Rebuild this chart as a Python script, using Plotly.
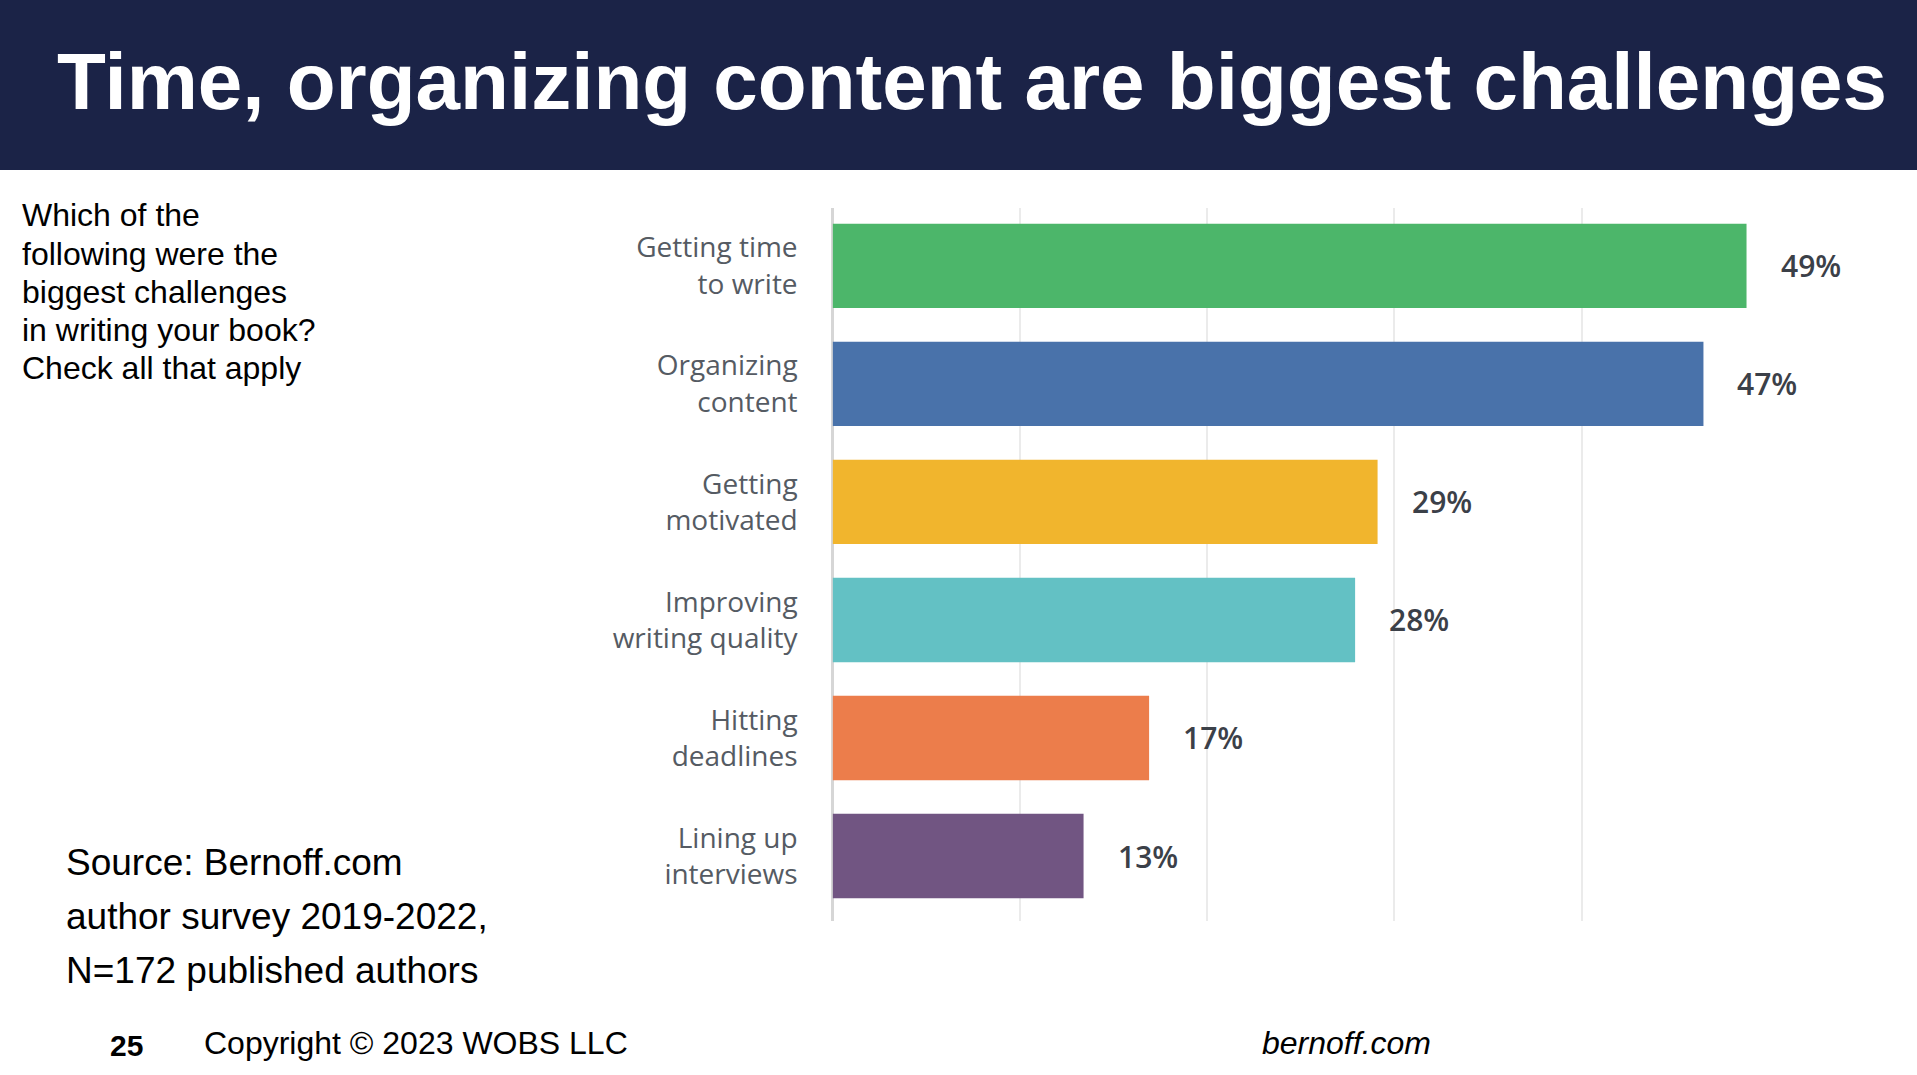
import plotly.graph_objects as go

categories = ["Getting time<br>to write", "Organizing<br>content", "Getting<br>motivated",
              "Improving<br>writing quality", "Hitting<br>deadlines", "Lining up<br>interviews"]
# bar lengths (percent of respondents)
values = [48.8, 46.5, 29.1, 27.9, 16.9, 13.4]
value_labels = ["49%", "47%", "29%", "28%", "17%", "13%"]
bar_colors = ["#4cb66a", "#4972aa", "#f1b52d", "#63c1c4", "#ec7d4b", "#715582"]

title_text = "Time, organizing content are biggest challenges"
question_lines = ["Which of the", "following were the", "biggest challenges",
                  "in writing your book?", "Check all that apply"]
source_lines = ["Source: Bernoff.com", "author survey 2019-2022,", "N=172 published authors"]
page_number = "25"
copyright_text = "Copyright © 2023 WOBS LLC"
site_text = "bernoff.com"

W, H = 1917, 1075

fig = go.Figure()
fig.add_trace(go.Bar(
    x=values, y=categories, orientation="h",
    marker=dict(color=bar_colors, line=dict(width=0)),
    hoverinfo="skip",
))

annotations = []
for v, c, t in zip(values, categories, value_labels):
    annotations.append(dict(
        x=v, y=c, xref="x", yref="y", text=t, showarrow=False,
        xanchor="left", yanchor="middle", xshift=32,
        font=dict(family="Open Sans", size=30, color="#3b4048", weight=600),
    ))

def px_x(px):
    return px / W

def px_y(px):
    return 1 - px / H

# title
annotations.append(dict(
    x=px_x(972), y=px_y(82), xref="paper", yref="paper", text="<b>" + title_text + "</b>",
    showarrow=False, xanchor="center", yanchor="middle",
    font=dict(family="Liberation Sans, Arial, sans-serif", size=80, color="#ffffff"),
))

q_y = [215, 254, 292, 330, 368]
for line, yy in zip(question_lines, q_y):
    annotations.append(dict(
        x=px_x(20), y=px_y(yy), xref="paper", yref="paper", text=line,
        showarrow=False, xanchor="left", yanchor="middle",
        font=dict(family="Liberation Sans, Arial, sans-serif", size=32, color="#000000"),
    ))

s_y = [862, 916, 970]
for line, yy in zip(source_lines, s_y):
    annotations.append(dict(
        x=px_x(63.5), y=px_y(yy), xref="paper", yref="paper", text=line,
        showarrow=False, xanchor="left", yanchor="middle",
        font=dict(family="Liberation Sans, Arial, sans-serif", size=37, color="#000000"),
    ))

annotations.append(dict(
    x=px_x(127), y=px_y(1045), xref="paper", yref="paper", text="<b>" + page_number + "</b>",
    showarrow=False, xanchor="center", yanchor="middle",
    font=dict(family="Liberation Sans, Arial, sans-serif", size=30, color="#000000"),
))
annotations.append(dict(
    x=px_x(202), y=px_y(1043), xref="paper", yref="paper", text=copyright_text,
    showarrow=False, xanchor="left", yanchor="middle",
    font=dict(family="Liberation Sans, Arial, sans-serif", size=32, color="#000000"),
))
annotations.append(dict(
    x=px_x(1260), y=px_y(1043), xref="paper", yref="paper", text="<i>" + site_text + "</i>",
    showarrow=False, xanchor="left", yanchor="middle",
    font=dict(family="Liberation Sans, Arial, sans-serif", size=32, color="#000000"),
))

fig.update_layout(
    width=W, height=H, autosize=False,
    margin=dict(l=0, r=0, t=0, b=0),
    paper_bgcolor="#ffffff", plot_bgcolor="#ffffff",
    showlegend=False,
    bargap=0.285,
    annotations=annotations,
    shapes=[dict(type="rect", xref="paper", yref="paper", x0=0, x1=1,
                 y0=px_y(170), y1=1, fillcolor="#1b2347", line=dict(width=0), layer="below")],
    xaxis=dict(
        domain=[832.6 / W, 1769 / W], range=[0, 50], dtick=10,
        showgrid=True, gridcolor="#ebebeb", gridwidth=2,
        zeroline=True, zerolinecolor="#d6d6d6", zerolinewidth=3,
        showticklabels=False, showline=False, fixedrange=True,
    ),
    yaxis=dict(
        domain=[px_y(920.6), px_y(208)],
        type="category", categoryorder="array", categoryarray=categories,
        range=[5.547, -0.49],
        showgrid=False, zeroline=False, showline=False,
        ticks="", ticklabelstandoff=34,
        tickfont=dict(family="Open Sans", size=28, color="#555b63"),
        fixedrange=True,
    ),
)

fig.write_html("out.html")
